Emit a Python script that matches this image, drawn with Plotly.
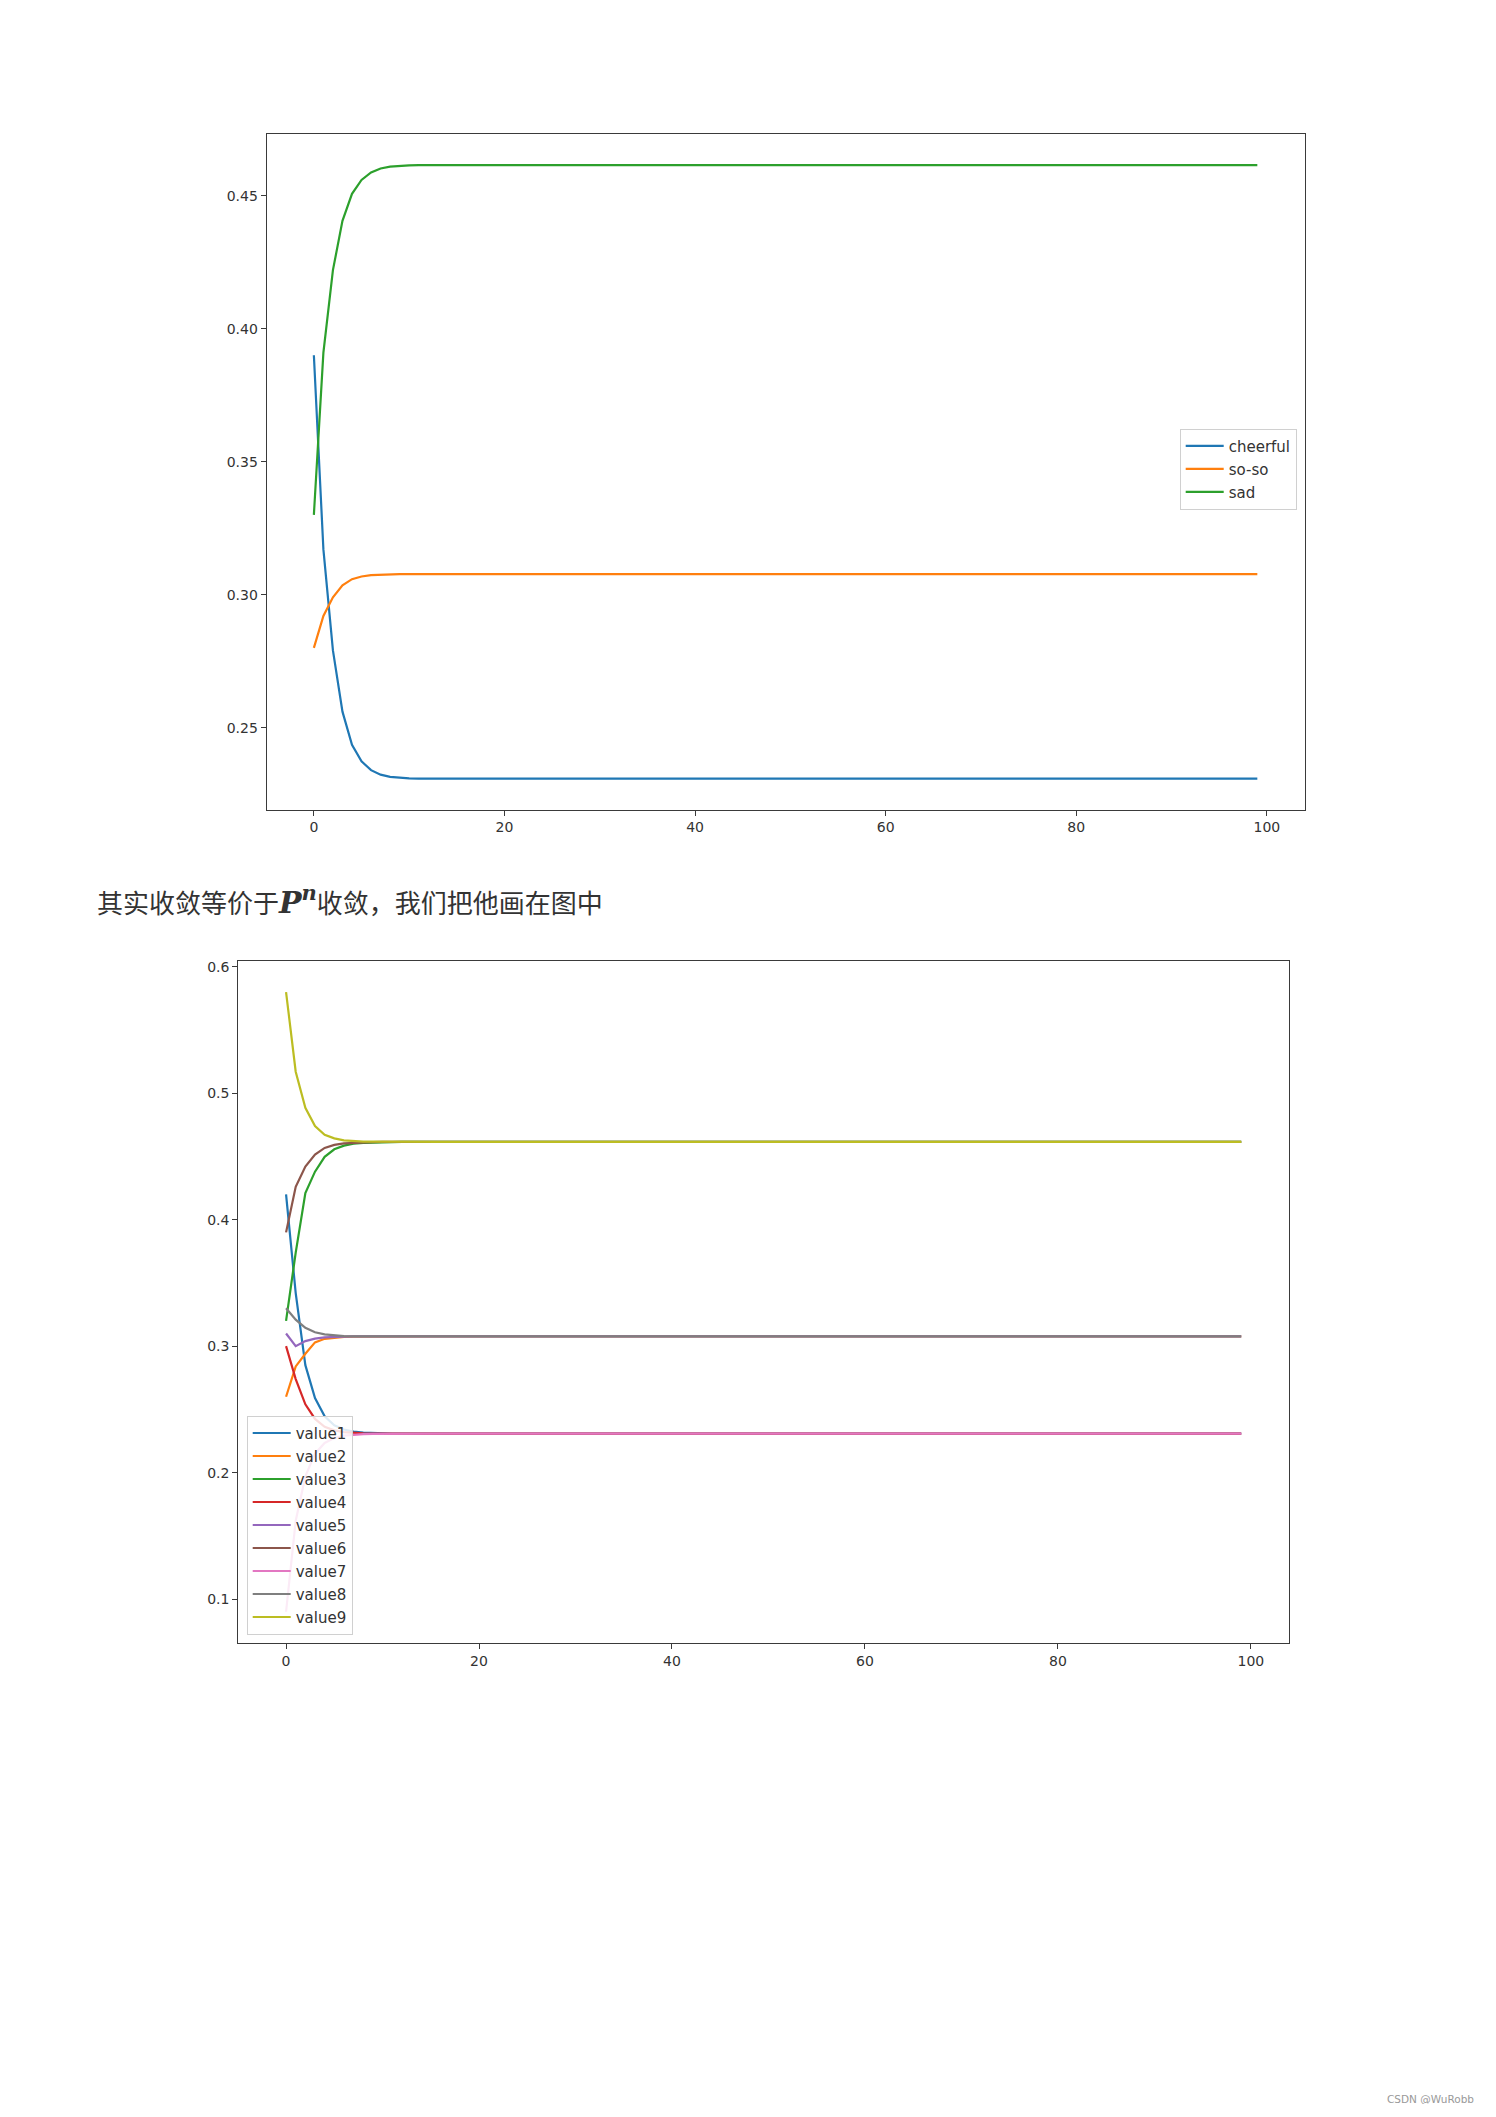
import plotly.graph_objects as go

# page is 1496 wide, body margin of the html page is 8px
W, H = 1480, 2096

steps = list(range(100))

# first chart: state distribution over steps
cheerful = [
    0.39, 0.317, 0.279, 0.256, 0.2435, 0.2373, 0.2340, 0.2323, 0.2315, 0.2311,
    0.2309, 0.2308, 0.2308, 0.2308, 0.2308, 0.2308, 0.2308, 0.2308, 0.2308, 0.2308,
    0.2308, 0.2308, 0.2308, 0.2308, 0.2308, 0.2308, 0.2308, 0.2308, 0.2308, 0.2308,
    0.2308, 0.2308, 0.2308, 0.2308, 0.2308, 0.2308, 0.2308, 0.2308, 0.2308, 0.2308,
    0.2308, 0.2308, 0.2308, 0.2308, 0.2308, 0.2308, 0.2308, 0.2308, 0.2308, 0.2308,
    0.2308, 0.2308, 0.2308, 0.2308, 0.2308, 0.2308, 0.2308, 0.2308, 0.2308, 0.2308,
    0.2308, 0.2308, 0.2308, 0.2308, 0.2308, 0.2308, 0.2308, 0.2308, 0.2308, 0.2308,
    0.2308, 0.2308, 0.2308, 0.2308, 0.2308, 0.2308, 0.2308, 0.2308, 0.2308, 0.2308,
    0.2308, 0.2308, 0.2308, 0.2308, 0.2308, 0.2308, 0.2308, 0.2308, 0.2308, 0.2308,
    0.2308, 0.2308, 0.2308, 0.2308, 0.2308, 0.2308, 0.2308, 0.2308, 0.2308, 0.2308,
]
so_so = [
    0.28, 0.292, 0.299, 0.3035, 0.3058, 0.3068, 0.3073, 0.3075, 0.3076, 0.3077,
    0.3077, 0.3077, 0.3077, 0.3077, 0.3077, 0.3077, 0.3077, 0.3077, 0.3077, 0.3077,
    0.3077, 0.3077, 0.3077, 0.3077, 0.3077, 0.3077, 0.3077, 0.3077, 0.3077, 0.3077,
    0.3077, 0.3077, 0.3077, 0.3077, 0.3077, 0.3077, 0.3077, 0.3077, 0.3077, 0.3077,
    0.3077, 0.3077, 0.3077, 0.3077, 0.3077, 0.3077, 0.3077, 0.3077, 0.3077, 0.3077,
    0.3077, 0.3077, 0.3077, 0.3077, 0.3077, 0.3077, 0.3077, 0.3077, 0.3077, 0.3077,
    0.3077, 0.3077, 0.3077, 0.3077, 0.3077, 0.3077, 0.3077, 0.3077, 0.3077, 0.3077,
    0.3077, 0.3077, 0.3077, 0.3077, 0.3077, 0.3077, 0.3077, 0.3077, 0.3077, 0.3077,
    0.3077, 0.3077, 0.3077, 0.3077, 0.3077, 0.3077, 0.3077, 0.3077, 0.3077, 0.3077,
    0.3077, 0.3077, 0.3077, 0.3077, 0.3077, 0.3077, 0.3077, 0.3077, 0.3077, 0.3077,
]
sad = [
    0.33, 0.391, 0.422, 0.4405, 0.4507, 0.4559, 0.4587, 0.4602, 0.4609, 0.4612,
    0.4614, 0.4615, 0.4615, 0.4615, 0.4615, 0.4615, 0.4615, 0.4615, 0.4615, 0.4615,
    0.4615, 0.4615, 0.4615, 0.4615, 0.4615, 0.4615, 0.4615, 0.4615, 0.4615, 0.4615,
    0.4615, 0.4615, 0.4615, 0.4615, 0.4615, 0.4615, 0.4615, 0.4615, 0.4615, 0.4615,
    0.4615, 0.4615, 0.4615, 0.4615, 0.4615, 0.4615, 0.4615, 0.4615, 0.4615, 0.4615,
    0.4615, 0.4615, 0.4615, 0.4615, 0.4615, 0.4615, 0.4615, 0.4615, 0.4615, 0.4615,
    0.4615, 0.4615, 0.4615, 0.4615, 0.4615, 0.4615, 0.4615, 0.4615, 0.4615, 0.4615,
    0.4615, 0.4615, 0.4615, 0.4615, 0.4615, 0.4615, 0.4615, 0.4615, 0.4615, 0.4615,
    0.4615, 0.4615, 0.4615, 0.4615, 0.4615, 0.4615, 0.4615, 0.4615, 0.4615, 0.4615,
    0.4615, 0.4615, 0.4615, 0.4615, 0.4615, 0.4615, 0.4615, 0.4615, 0.4615, 0.4615,
]

# second chart: the nine entries of P^n
value1 = [
    0.42, 0.342, 0.285, 0.259, 0.2445, 0.2375, 0.2341, 0.2324, 0.2316, 0.2312,
    0.2310, 0.2309, 0.2308, 0.2308, 0.2308, 0.2308, 0.2308, 0.2308, 0.2308, 0.2308,
    0.2308, 0.2308, 0.2308, 0.2308, 0.2308, 0.2308, 0.2308, 0.2308, 0.2308, 0.2308,
    0.2308, 0.2308, 0.2308, 0.2308, 0.2308, 0.2308, 0.2308, 0.2308, 0.2308, 0.2308,
    0.2308, 0.2308, 0.2308, 0.2308, 0.2308, 0.2308, 0.2308, 0.2308, 0.2308, 0.2308,
    0.2308, 0.2308, 0.2308, 0.2308, 0.2308, 0.2308, 0.2308, 0.2308, 0.2308, 0.2308,
    0.2308, 0.2308, 0.2308, 0.2308, 0.2308, 0.2308, 0.2308, 0.2308, 0.2308, 0.2308,
    0.2308, 0.2308, 0.2308, 0.2308, 0.2308, 0.2308, 0.2308, 0.2308, 0.2308, 0.2308,
    0.2308, 0.2308, 0.2308, 0.2308, 0.2308, 0.2308, 0.2308, 0.2308, 0.2308, 0.2308,
    0.2308, 0.2308, 0.2308, 0.2308, 0.2308, 0.2308, 0.2308, 0.2308, 0.2308, 0.2308,
]
value2 = [
    0.26, 0.284, 0.294, 0.303, 0.3058, 0.3068, 0.3073, 0.3075, 0.3076, 0.3077,
    0.3077, 0.3077, 0.3077, 0.3077, 0.3077, 0.3077, 0.3077, 0.3077, 0.3077, 0.3077,
    0.3077, 0.3077, 0.3077, 0.3077, 0.3077, 0.3077, 0.3077, 0.3077, 0.3077, 0.3077,
    0.3077, 0.3077, 0.3077, 0.3077, 0.3077, 0.3077, 0.3077, 0.3077, 0.3077, 0.3077,
    0.3077, 0.3077, 0.3077, 0.3077, 0.3077, 0.3077, 0.3077, 0.3077, 0.3077, 0.3077,
    0.3077, 0.3077, 0.3077, 0.3077, 0.3077, 0.3077, 0.3077, 0.3077, 0.3077, 0.3077,
    0.3077, 0.3077, 0.3077, 0.3077, 0.3077, 0.3077, 0.3077, 0.3077, 0.3077, 0.3077,
    0.3077, 0.3077, 0.3077, 0.3077, 0.3077, 0.3077, 0.3077, 0.3077, 0.3077, 0.3077,
    0.3077, 0.3077, 0.3077, 0.3077, 0.3077, 0.3077, 0.3077, 0.3077, 0.3077, 0.3077,
    0.3077, 0.3077, 0.3077, 0.3077, 0.3077, 0.3077, 0.3077, 0.3077, 0.3077, 0.3077,
]
value3 = [
    0.32, 0.374, 0.421, 0.438, 0.4497, 0.4557, 0.4586, 0.4601, 0.4608, 0.4611,
    0.4613, 0.4614, 0.4615, 0.4615, 0.4615, 0.4615, 0.4615, 0.4615, 0.4615, 0.4615,
    0.4615, 0.4615, 0.4615, 0.4615, 0.4615, 0.4615, 0.4615, 0.4615, 0.4615, 0.4615,
    0.4615, 0.4615, 0.4615, 0.4615, 0.4615, 0.4615, 0.4615, 0.4615, 0.4615, 0.4615,
    0.4615, 0.4615, 0.4615, 0.4615, 0.4615, 0.4615, 0.4615, 0.4615, 0.4615, 0.4615,
    0.4615, 0.4615, 0.4615, 0.4615, 0.4615, 0.4615, 0.4615, 0.4615, 0.4615, 0.4615,
    0.4615, 0.4615, 0.4615, 0.4615, 0.4615, 0.4615, 0.4615, 0.4615, 0.4615, 0.4615,
    0.4615, 0.4615, 0.4615, 0.4615, 0.4615, 0.4615, 0.4615, 0.4615, 0.4615, 0.4615,
    0.4615, 0.4615, 0.4615, 0.4615, 0.4615, 0.4615, 0.4615, 0.4615, 0.4615, 0.4615,
    0.4615, 0.4615, 0.4615, 0.4615, 0.4615, 0.4615, 0.4615, 0.4615, 0.4615, 0.4615,
]
value4 = [
    0.30, 0.274, 0.254, 0.2425, 0.2363, 0.2334, 0.2320, 0.2314, 0.2311, 0.2309,
    0.2308, 0.2308, 0.2308, 0.2308, 0.2308, 0.2308, 0.2308, 0.2308, 0.2308, 0.2308,
    0.2308, 0.2308, 0.2308, 0.2308, 0.2308, 0.2308, 0.2308, 0.2308, 0.2308, 0.2308,
    0.2308, 0.2308, 0.2308, 0.2308, 0.2308, 0.2308, 0.2308, 0.2308, 0.2308, 0.2308,
    0.2308, 0.2308, 0.2308, 0.2308, 0.2308, 0.2308, 0.2308, 0.2308, 0.2308, 0.2308,
    0.2308, 0.2308, 0.2308, 0.2308, 0.2308, 0.2308, 0.2308, 0.2308, 0.2308, 0.2308,
    0.2308, 0.2308, 0.2308, 0.2308, 0.2308, 0.2308, 0.2308, 0.2308, 0.2308, 0.2308,
    0.2308, 0.2308, 0.2308, 0.2308, 0.2308, 0.2308, 0.2308, 0.2308, 0.2308, 0.2308,
    0.2308, 0.2308, 0.2308, 0.2308, 0.2308, 0.2308, 0.2308, 0.2308, 0.2308, 0.2308,
    0.2308, 0.2308, 0.2308, 0.2308, 0.2308, 0.2308, 0.2308, 0.2308, 0.2308, 0.2308,
]
value5 = [
    0.31, 0.300, 0.304, 0.306, 0.3069, 0.3074, 0.3076, 0.3077, 0.3077, 0.3077,
    0.3077, 0.3077, 0.3077, 0.3077, 0.3077, 0.3077, 0.3077, 0.3077, 0.3077, 0.3077,
    0.3077, 0.3077, 0.3077, 0.3077, 0.3077, 0.3077, 0.3077, 0.3077, 0.3077, 0.3077,
    0.3077, 0.3077, 0.3077, 0.3077, 0.3077, 0.3077, 0.3077, 0.3077, 0.3077, 0.3077,
    0.3077, 0.3077, 0.3077, 0.3077, 0.3077, 0.3077, 0.3077, 0.3077, 0.3077, 0.3077,
    0.3077, 0.3077, 0.3077, 0.3077, 0.3077, 0.3077, 0.3077, 0.3077, 0.3077, 0.3077,
    0.3077, 0.3077, 0.3077, 0.3077, 0.3077, 0.3077, 0.3077, 0.3077, 0.3077, 0.3077,
    0.3077, 0.3077, 0.3077, 0.3077, 0.3077, 0.3077, 0.3077, 0.3077, 0.3077, 0.3077,
    0.3077, 0.3077, 0.3077, 0.3077, 0.3077, 0.3077, 0.3077, 0.3077, 0.3077, 0.3077,
    0.3077, 0.3077, 0.3077, 0.3077, 0.3077, 0.3077, 0.3077, 0.3077, 0.3077, 0.3077,
]
value6 = [
    0.39, 0.426, 0.442, 0.4515, 0.4568, 0.4592, 0.4604, 0.4609, 0.4612, 0.4614,
    0.4615, 0.4615, 0.4615, 0.4615, 0.4615, 0.4615, 0.4615, 0.4615, 0.4615, 0.4615,
    0.4615, 0.4615, 0.4615, 0.4615, 0.4615, 0.4615, 0.4615, 0.4615, 0.4615, 0.4615,
    0.4615, 0.4615, 0.4615, 0.4615, 0.4615, 0.4615, 0.4615, 0.4615, 0.4615, 0.4615,
    0.4615, 0.4615, 0.4615, 0.4615, 0.4615, 0.4615, 0.4615, 0.4615, 0.4615, 0.4615,
    0.4615, 0.4615, 0.4615, 0.4615, 0.4615, 0.4615, 0.4615, 0.4615, 0.4615, 0.4615,
    0.4615, 0.4615, 0.4615, 0.4615, 0.4615, 0.4615, 0.4615, 0.4615, 0.4615, 0.4615,
    0.4615, 0.4615, 0.4615, 0.4615, 0.4615, 0.4615, 0.4615, 0.4615, 0.4615, 0.4615,
    0.4615, 0.4615, 0.4615, 0.4615, 0.4615, 0.4615, 0.4615, 0.4615, 0.4615, 0.4615,
    0.4615, 0.4615, 0.4615, 0.4615, 0.4615, 0.4615, 0.4615, 0.4615, 0.4615, 0.4615,
]
value7 = [
    0.09, 0.162, 0.197, 0.215, 0.2235, 0.2273, 0.2292, 0.2300, 0.2304, 0.2306,
    0.2307, 0.2308, 0.2308, 0.2308, 0.2308, 0.2308, 0.2308, 0.2308, 0.2308, 0.2308,
    0.2308, 0.2308, 0.2308, 0.2308, 0.2308, 0.2308, 0.2308, 0.2308, 0.2308, 0.2308,
    0.2308, 0.2308, 0.2308, 0.2308, 0.2308, 0.2308, 0.2308, 0.2308, 0.2308, 0.2308,
    0.2308, 0.2308, 0.2308, 0.2308, 0.2308, 0.2308, 0.2308, 0.2308, 0.2308, 0.2308,
    0.2308, 0.2308, 0.2308, 0.2308, 0.2308, 0.2308, 0.2308, 0.2308, 0.2308, 0.2308,
    0.2308, 0.2308, 0.2308, 0.2308, 0.2308, 0.2308, 0.2308, 0.2308, 0.2308, 0.2308,
    0.2308, 0.2308, 0.2308, 0.2308, 0.2308, 0.2308, 0.2308, 0.2308, 0.2308, 0.2308,
    0.2308, 0.2308, 0.2308, 0.2308, 0.2308, 0.2308, 0.2308, 0.2308, 0.2308, 0.2308,
    0.2308, 0.2308, 0.2308, 0.2308, 0.2308, 0.2308, 0.2308, 0.2308, 0.2308, 0.2308,
]
value8 = [
    0.33, 0.321, 0.3145, 0.311, 0.3093, 0.3084, 0.3080, 0.3078, 0.3078, 0.3077,
    0.3077, 0.3077, 0.3077, 0.3077, 0.3077, 0.3077, 0.3077, 0.3077, 0.3077, 0.3077,
    0.3077, 0.3077, 0.3077, 0.3077, 0.3077, 0.3077, 0.3077, 0.3077, 0.3077, 0.3077,
    0.3077, 0.3077, 0.3077, 0.3077, 0.3077, 0.3077, 0.3077, 0.3077, 0.3077, 0.3077,
    0.3077, 0.3077, 0.3077, 0.3077, 0.3077, 0.3077, 0.3077, 0.3077, 0.3077, 0.3077,
    0.3077, 0.3077, 0.3077, 0.3077, 0.3077, 0.3077, 0.3077, 0.3077, 0.3077, 0.3077,
    0.3077, 0.3077, 0.3077, 0.3077, 0.3077, 0.3077, 0.3077, 0.3077, 0.3077, 0.3077,
    0.3077, 0.3077, 0.3077, 0.3077, 0.3077, 0.3077, 0.3077, 0.3077, 0.3077, 0.3077,
    0.3077, 0.3077, 0.3077, 0.3077, 0.3077, 0.3077, 0.3077, 0.3077, 0.3077, 0.3077,
    0.3077, 0.3077, 0.3077, 0.3077, 0.3077, 0.3077, 0.3077, 0.3077, 0.3077, 0.3077,
]
value9 = [
    0.58, 0.517, 0.4885, 0.474, 0.4672, 0.4643, 0.4628, 0.4622, 0.4618, 0.4617,
    0.4616, 0.4615, 0.4615, 0.4615, 0.4615, 0.4615, 0.4615, 0.4615, 0.4615, 0.4615,
    0.4615, 0.4615, 0.4615, 0.4615, 0.4615, 0.4615, 0.4615, 0.4615, 0.4615, 0.4615,
    0.4615, 0.4615, 0.4615, 0.4615, 0.4615, 0.4615, 0.4615, 0.4615, 0.4615, 0.4615,
    0.4615, 0.4615, 0.4615, 0.4615, 0.4615, 0.4615, 0.4615, 0.4615, 0.4615, 0.4615,
    0.4615, 0.4615, 0.4615, 0.4615, 0.4615, 0.4615, 0.4615, 0.4615, 0.4615, 0.4615,
    0.4615, 0.4615, 0.4615, 0.4615, 0.4615, 0.4615, 0.4615, 0.4615, 0.4615, 0.4615,
    0.4615, 0.4615, 0.4615, 0.4615, 0.4615, 0.4615, 0.4615, 0.4615, 0.4615, 0.4615,
    0.4615, 0.4615, 0.4615, 0.4615, 0.4615, 0.4615, 0.4615, 0.4615, 0.4615, 0.4615,
    0.4615, 0.4615, 0.4615, 0.4615, 0.4615, 0.4615, 0.4615, 0.4615, 0.4615, 0.4615,
]

top_names = ["cheerful", "so-so", "sad"]
top_series = [cheerful, so_so, sad]
bottom_names = ["value1", "value2", "value3", "value4", "value5",
                "value6", "value7", "value8", "value9"]
bottom_series = [value1, value2, value3, value4, value5,
                 value6, value7, value8, value9]

colors = ["#1f77b4", "#ff7f0e", "#2ca02c", "#d62728", "#9467bd",
          "#8c564b", "#e377c2", "#7f7f7f", "#bcbd22"]


def fx(px):
    # page pixel -> paper fraction
    return (px - 8) / W


def fy(px):
    return 1 - (px - 8) / H


fig = go.Figure()

for i, (name, ys) in enumerate(zip(top_names, top_series)):
    fig.add_trace(go.Scatter(
        x=steps, y=ys, mode="lines", name=name,
        line=dict(color=colors[i], width=2.2),
        xaxis="x", yaxis="y", legend="legend", legendgroup=name,
    ))

for i, (name, ys) in enumerate(zip(bottom_names, bottom_series)):
    fig.add_trace(go.Scatter(
        x=steps, y=ys, mode="lines", name=name,
        line=dict(color=colors[i], width=2.2),
        xaxis="x2", yaxis="y2", legend="legend2", legendgroup=name,
    ))

axis_style = dict(
    showline=True, mirror=True, linecolor="#3a3a3a", linewidth=1.2,
    showgrid=False, zeroline=False,
    ticks="outside", ticklen=5, tickwidth=1.1, tickcolor="#3a3a3a",
    tickfont=dict(family="DejaVu Sans", size=14, color="#333333"),
)

legend_style = dict(
    bgcolor="rgba(255,255,255,0.85)", bordercolor="#d0d0d0", borderwidth=1,
    font=dict(family="DejaVu Sans", size=15, color="#333333"),
    tracegroupgap=0.5, traceorder="grouped", itemwidth=38,
)

fig.update_layout(
    width=W, height=H,
    margin=dict(l=0, r=0, t=0, b=0),
    paper_bgcolor="white", plot_bgcolor="white",
    showlegend=True,
    xaxis=dict(domain=[fx(266.7), fx(1304.5)], anchor="y",
               range=[-4.95, 103.95], tickvals=[0, 20, 40, 60, 80, 100], **axis_style),
    yaxis=dict(domain=[fy(808.3), fy(132.3)], anchor="x",
               range=[0.2192, 0.4731], tickvals=[0.25, 0.30, 0.35, 0.40, 0.45],
               tickformat=".2f", **axis_style),
    xaxis2=dict(domain=[fx(238.3), fx(1289)], anchor="y2",
                range=[-4.95, 103.95], tickvals=[0, 20, 40, 60, 80, 100], **axis_style),
    yaxis2=dict(domain=[fy(1642.3), fy(960)], anchor="x2",
                range=[0.0655, 0.6045], tickvals=[0.1, 0.2, 0.3, 0.4, 0.5, 0.6],
                tickformat=".1f", **axis_style),
    legend=dict(x=fx(1296.7), y=fy(427), xanchor="right", yanchor="top",
                **legend_style),
    legend2=dict(x=fx(246.7), y=fy(1634.3), xanchor="left", yanchor="bottom",
                 **legend_style),
)

fig.add_annotation(
    xref="paper", yref="paper", x=fx(95), y=fy(899),
    xanchor="left", yanchor="middle", showarrow=False,
    text='其实收敛等价于<span style="font-family:DejaVu Serif;font-size:30px">'
         '<b><i>P</i></b><sup><b><i>n</i></b></sup></span>收敛，我们把他画在图中',
    font=dict(family="Noto Sans CJK SC", size=26, color="#333333"),
)

fig.add_annotation(
    xref="paper", yref="paper", x=fx(1476), y=fy(2099),
    xanchor="right", yanchor="middle", showarrow=False,
    text="CSDN @WuRobb",
    font=dict(family="DejaVu Sans", size=10.5, color="#999999"),
)

fig.write_html("out.html")
